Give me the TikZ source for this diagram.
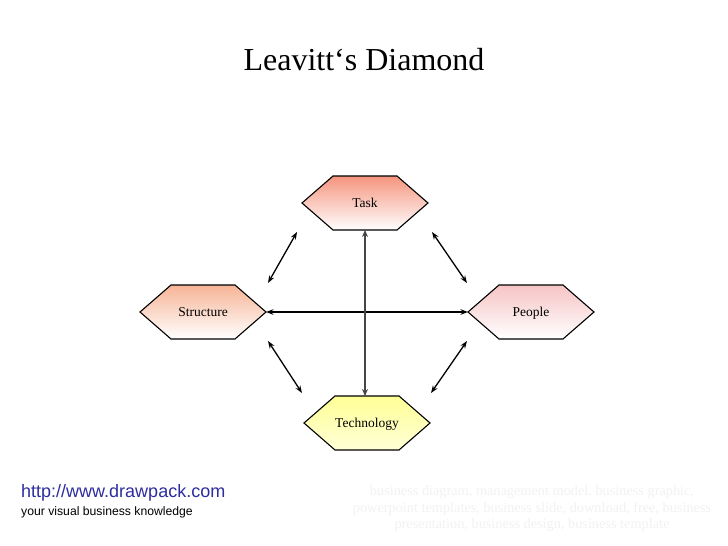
\documentclass[tikz,border=0pt]{standalone}
\usepackage{fontspec}
\setmainfont{Liberation Serif}
\newfontfamily\arialfont{Liberation Sans}
\usetikzlibrary{arrows.meta}
\definecolor{urlblue}{RGB}{45,45,160}
\definecolor{faint}{RGB}{242,242,242}
\definecolor{taskc}{RGB}{245,148,125}
\definecolor{structc}{RGB}{246,180,150}
\definecolor{peoplec}{RGB}{246,196,196}
\definecolor{techc}{RGB}{255,255,150}
\definecolor{techb}{RGB}{255,255,215}
\definecolor{vgray}{RGB}{70,70,70}
\tikzset{
  hexlabel/.style={font=\fontsize{13.5}{15}\selectfont, inner sep=0pt, anchor=base},
  link/.style={line width=1.3pt, {Stealth[length=7.5pt,width=5.5pt]}-{Stealth[length=7.5pt,width=5.5pt]}},
  vlink/.style={line width=2.4pt, draw=vgray, {Stealth[length=7pt,width=6pt]}-{Stealth[length=7pt,width=6pt]}},
}
\newcommand{\hexbox}[6]{%
  \path[top color=#5, bottom color=#6, draw=black, line width=1.1pt]
    (#2-63,#3) -- (#2-32,#3-27) -- (#2+32,#3-27) -- (#2+63,#3) -- (#2+32,#3+27) -- (#2-32,#3+27) -- cycle;
  \coordinate (#1-n) at (#2,#3-27);
  \coordinate (#1-s) at (#2,#3+27);
  \coordinate (#1-w) at (#2-63,#3);
  \coordinate (#1-e) at (#2+63,#3);
  \node[hexlabel] (#1) at (#2,#3+4.5) {#4};
}
\begin{document}
\begin{tikzpicture}[x=1pt,y=-1pt]
\useasboundingbox (0,0) rectangle (728,546);
\fill[white] (0,0) rectangle (728,546);
% title
\node[anchor=base, font=\fontsize{32}{36}\selectfont, inner sep=0pt] (title) at (364,70) {Leavitt‘s Diamond};
% hexagons
\hexbox{task}{365}{203}{Task}{taskc}{white}
\hexbox{struct}{203}{312}{Structure}{structc}{white}
\hexbox{people}{531}{312}{People}{peoplec}{white}
\hexbox{tech}{367}{423}{Technology}{techc}{techb}
% free arrow ends
\coordinate (ula) at (297,232);
\coordinate (ulb) at (268,283);
\coordinate (ura) at (432,232);
\coordinate (urb) at (467,283);
\coordinate (lla) at (268,341);
\coordinate (llb) at (302,393);
\coordinate (lra) at (467,341);
\coordinate (lrb) at (431,393);
% connectors
\draw[link] (struct-e) -- (people-w);
\draw[vlink] (task-s) -- (task-s |- tech-n);
\draw[link] (ula) -- (ulb);
\draw[link] (ura) -- (urb);
\draw[link] (lla) -- (llb);
\draw[link] (lra) -- (lrb);
% footer
\node[anchor=base west, font=\arialfont\fontsize{18}{20}\selectfont, text=urlblue, inner sep=0pt] (url) at (21,497) {http://www.drawpack.com};
\node[anchor=base west, font=\arialfont\fontsize{12.2}{14}\selectfont, inner sep=0pt] (slogan) at (21,515) {your visual business knowledge};
\node[font=\fontsize{14.3}{16.5}\selectfont, text=faint, align=center, inner sep=0pt] (tags) at (532,509) {business diagram, management model, business graphic,\\powerpoint templates, business slide, download, free, business\\presentation, business design, business template};
\end{tikzpicture}
\end{document}
